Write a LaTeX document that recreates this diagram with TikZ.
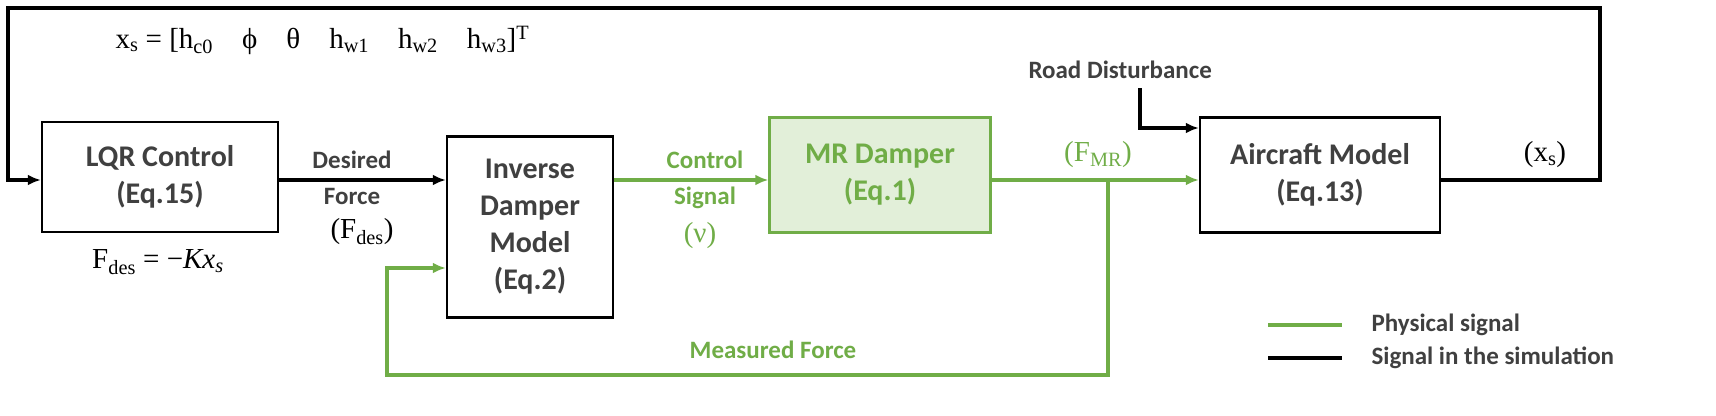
\documentclass[tikz,border=0pt]{standalone}
\usepackage{fontspec}
\setmainfont{Carlito}
\newfontfamily\serifm{Liberation Serif}
\usetikzlibrary{arrows.meta}
\definecolor{gr}{HTML}{70AD47}
\definecolor{grf}{HTML}{E2EFD9}
\definecolor{tx}{HTML}{404040}
\begin{document}
\begin{tikzpicture}[x=1pt,y=-1pt,
 box/.style={draw=black,line width=2.5pt,fill=white,align=center,font=\bfseries\fontsize{30}{37}\selectfont,text=tx},
 bl/.style={line width=3.5pt,-{Latex[length=13pt,width=11pt]}},
 gl/.style={line width=3.5pt,draw=gr,-{Latex[length=13pt,width=11pt]}},
 lab/.style={font=\bfseries\fontsize{25}{30}\selectfont,align=center},
 ser/.style={font=\serifm\fontsize{29}{34}\selectfont}]
\useasboundingbox (0,0) rectangle (1716,415);
\node[box,minimum width=236pt,minimum height=110pt] (lqr) at (160,177) {LQR Control\\(Eq.15)};
\node[box,minimum width=166pt,minimum height=181pt] (inv) at (530,227) {Inverse\\Damper\\Model\\(Eq.2)};
\node[box,draw=gr,fill=grf,text=gr,minimum width=221pt,minimum height=115pt] (mr) at (880,175) {MR Damper\\(Eq.1)};
\node[box,minimum width=240pt,minimum height=115pt] (ac) at (1320,175) {Aircraft Model\\(Eq.13)};
\coordinate (o) at (1600,180);
\coordinate (br) at (1108,180);
\draw[bl] (ac.east|-o) -- (o) -- (1600,8) -- (8,8) -- (8,180) -- (lqr.west|-o);
\draw[bl] (lqr.east|-o) -- (inv.west|-o);
\draw[gl] (inv.east|-o) -- (mr.west|-o);
\draw[gl] (mr.east|-o) -- (ac.west|-o);
\draw[gl] (br) -- (1108,375) -- (387,375) -- (387,268) -- (inv.west|-{(0,268)});
\node[lab,text=tx,anchor=south west] (rd) at (1025,82) {Road Disturbance};
\draw[bl] (1140,88) -- (1140,128) -- (ac.west|-{(0,128)});
\node[lab,text=tx] (df1) at (352,160) {Desired};
\node[lab,text=tx] (df2) at (352,196) {Force};
\node[ser] (fd) at (362,232) {(F\textsubscript{des})};
\node[lab,text=gr] (cs1) at (705,160) {Control};
\node[lab,text=gr] (cs2) at (705,198) {Signal};
\node[ser,text=gr] (nu) at (700,236) {(ν)};
\node[ser,text=gr] (fmr) at (1098,155) {(F\textsubscript{MR})};
\node[ser] (xs) at (1545,155) {(x\textsubscript{s})};
\node[ser] (fe) at (158,262) {F\textsubscript{des} = −\textit{Kx\textsubscript{s}}};
\node[ser,anchor=west] (xd) at (112,40) {x\textsubscript{s} = [h\textsubscript{c0}\quad ϕ\quad θ\quad h\textsubscript{w1}\quad h\textsubscript{w2}\quad h\textsubscript{w3}]\textsuperscript{T}};
\node[lab,text=gr] (mf) at (773,350) {Measured Force};
\coordinate (l1a) at (1268,325); \coordinate (l1b) at (1342,325);
\coordinate (l2a) at (1268,358); \coordinate (l2b) at (1342,358);
\draw[gr,line width=3.5pt] (l1a) -- (l1b);
\draw[black,line width=3.5pt] (l2a) -- (l2b);
\node[lab,text=tx,anchor=west] (p1) at (1368,325) {Physical signal};
\node[lab,text=tx,anchor=west] (p2) at (1368,358) {Signal in the simulation};
\end{tikzpicture}
\end{document}
